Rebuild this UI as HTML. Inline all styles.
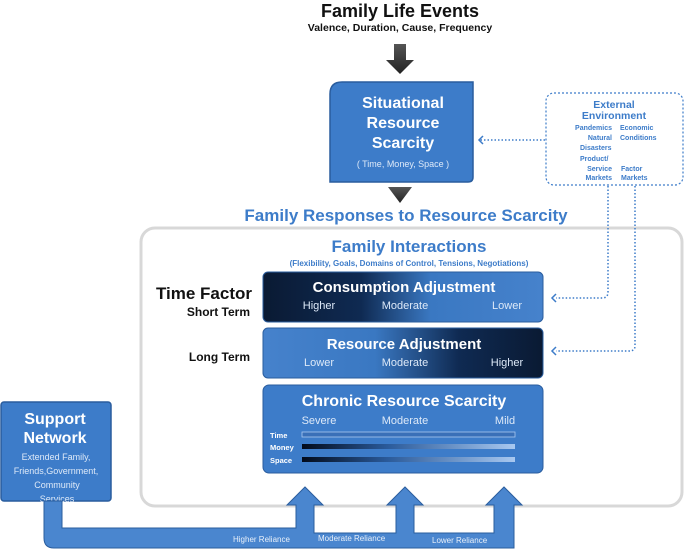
<!DOCTYPE html>
<html><head><meta charset="utf-8"><style>
html,body{margin:0;padding:0;background:#fff;}
svg{display:block;font-family:"Liberation Sans",sans-serif;}
</style></head><body>
<svg width="685" height="549" viewBox="0 0 685 549">
<defs>
<linearGradient id="gC" x1="0" x2="1"><stop offset="0" stop-color="#0a1a33"/><stop offset="0.35" stop-color="#0f2a52"/><stop offset="0.6" stop-color="#3a78c2"/><stop offset="1" stop-color="#4682cc"/></linearGradient>
<linearGradient id="gR" x1="0" x2="1"><stop offset="0" stop-color="#4682cc"/><stop offset="0.4" stop-color="#3a78c2"/><stop offset="0.7" stop-color="#0f2a52"/><stop offset="1" stop-color="#0a1a33"/></linearGradient>
<linearGradient id="gB" x1="0" x2="1"><stop offset="0" stop-color="#020a1a"/><stop offset="0.4" stop-color="#2a5a9a"/><stop offset="1" stop-color="#a8c8f0"/></linearGradient>
<linearGradient id="gA" x1="0" x2="0" y1="0" y2="1"><stop offset="0" stop-color="#555"/><stop offset="1" stop-color="#222"/></linearGradient>
</defs>
<text x="400" y="17" text-anchor="middle" font-size="18" font-weight="bold" fill="#111">Family Life Events</text>
<text x="400" y="31" text-anchor="middle" font-size="10.5" font-weight="bold" fill="#111">Valence, Duration, Cause, Frequency</text>
<path d="M394,44 H406 V60 H414 L400,74 L386,60 H394 Z" fill="url(#gA)"/>
<path d="M342,82 H473 V177 Q473,182 468,182 H330 V94 Q330,82 342,82 Z" fill="#3d7cc9" stroke="#2a5d9e" stroke-width="1.5"/>
<text x="403" y="108" text-anchor="middle" font-size="16" font-weight="bold" fill="#fff">Situational</text>
<text x="403" y="128" text-anchor="middle" font-size="16" font-weight="bold" fill="#fff">Resource</text>
<text x="403" y="148" text-anchor="middle" font-size="16" font-weight="bold" fill="#fff">Scarcity</text>
<text x="403" y="167" text-anchor="middle" font-size="9" fill="#dde9f8">( Time, Money, Space )</text>
<path d="M388,187 H412 L400,203 Z" fill="url(#gA)"/>
<text x="406" y="221" text-anchor="middle" font-size="17" font-weight="bold" fill="#3d7cc9">Family Responses to Resource Scarcity</text>
<rect x="141" y="228" width="541" height="278" rx="14" fill="#fff" stroke="#d8d8d8" stroke-width="3"/>
<rect x="546" y="93" width="137" height="92" rx="8" fill="none" stroke="#3d7cc9" stroke-width="1.2" stroke-dasharray="2,2"/>
<text x="614" y="108" text-anchor="middle" font-size="10.5" font-weight="bold" fill="#3d7cc9">External</text>
<text x="614" y="119" text-anchor="middle" font-size="10.5" font-weight="bold" fill="#3d7cc9">Environment</text>
<g font-size="7" font-weight="bold" fill="#3d7cc9">
<text x="612" y="130" text-anchor="end">Pandemics</text><text x="620" y="130">Economic</text>
<text x="612" y="140" text-anchor="end">Natural</text><text x="620" y="140">Conditions</text>
<text x="580" y="150">Disasters</text>
<text x="580" y="161">Product/</text>
<text x="612" y="171" text-anchor="end">Service</text><text x="621" y="171">Factor</text>
<text x="612" y="180" text-anchor="end">Markets</text><text x="621" y="180">Markets</text>
</g>
<g stroke="#3d7cc9" stroke-width="1.5" stroke-dasharray="1.5,2" fill="none">
<path d="M545,140 H480"/>
<path d="M608,186 V292 Q608,298 602,298 H556"/>
<path d="M635,186 V346 Q635,351 629,351 H556"/>
</g>
<g stroke="#3d7cc9" stroke-width="1.5" fill="none">
<path d="M483,136 L479,140 L483,144"/><path d="M556,294 L552,298 L556,302"/><path d="M556,347 L552,351 L556,355"/>
</g>
<text x="409" y="252" text-anchor="middle" font-size="17" font-weight="bold" fill="#3d7cc9">Family Interactions</text>
<text x="409" y="266" text-anchor="middle" font-size="8" font-weight="bold" fill="#3d7cc9">(Flexibility, Goals, Domains of Control, Tensions,  Negotiations)</text>
<text x="252" y="299" text-anchor="end" font-size="17" font-weight="bold" fill="#111">Time Factor</text>
<text x="250" y="316" text-anchor="end" font-size="12" font-weight="bold" fill="#111">Short Term</text>
<text x="250" y="361" text-anchor="end" font-size="12" font-weight="bold" fill="#111">Long Term</text>
<rect x="263" y="272" width="280" height="50" rx="5" fill="url(#gC)" stroke="#2a5d9e"/>
<text x="404" y="292" text-anchor="middle" font-size="15" font-weight="bold" fill="#fff">Consumption Adjustment</text>
<g font-size="11" fill="#dde9f8"><text x="319" y="323" dy="-14" text-anchor="middle">Higher</text><text x="405" y="309" text-anchor="middle">Moderate</text><text x="507" y="309" text-anchor="middle">Lower</text></g>
<rect x="263" y="328" width="280" height="50" rx="5" fill="url(#gR)" stroke="#2a5d9e"/>
<text x="404" y="349" text-anchor="middle" font-size="15" font-weight="bold" fill="#fff">Resource Adjustment</text>
<g font-size="11" fill="#dde9f8"><text x="319" y="366" text-anchor="middle">Lower</text><text x="405" y="366" text-anchor="middle">Moderate</text><text x="507" y="366" text-anchor="middle">Higher</text></g>
<rect x="263" y="385" width="280" height="88" rx="6" fill="#3d7cc9" stroke="#2a5d9e"/>
<text x="404" y="406" text-anchor="middle" font-size="16" font-weight="bold" fill="#fff">Chronic Resource Scarcity</text>
<g font-size="11" fill="#dde9f8"><text x="319" y="424" text-anchor="middle">Severe</text><text x="405" y="424" text-anchor="middle">Moderate</text><text x="505" y="424" text-anchor="middle">Mild</text></g>
<g font-size="7.5" font-weight="bold" fill="#fff"><text x="270" y="438">Time</text><text x="270" y="450">Money</text><text x="270" y="463">Space</text></g>
<rect x="302" y="432" width="213" height="5" fill="#3a70b8" stroke="#a8c8f0" stroke-width="0.8"/>
<rect x="302" y="444" width="213" height="5" fill="url(#gB)"/>
<rect x="302" y="457" width="213" height="5" fill="url(#gB)"/>
<rect x="1" y="402" width="110" height="99" rx="3" fill="#3d7cc9" stroke="#2a5d9e" stroke-width="1.5"/>
<text x="55" y="424" text-anchor="middle" font-size="16" font-weight="bold" fill="#fff">Support</text>
<text x="55" y="443" text-anchor="middle" font-size="16" font-weight="bold" fill="#fff">Network</text>
<g font-size="9" fill="#dde9f8" text-anchor="middle"><text x="56" y="460">Extended Family,</text><text x="56" y="474">Friends,Government,</text><text x="57" y="488">Community</text><text x="57" y="502">Services</text></g>
<path d="M44,501 V538 Q44,548 54,548 H514 V505 H522 L504,487 L486,505 H494 V533 H414 V505 H423 L405,487 L387,505 H396 V533 H314 V505 H323 L305,487 L287,505 H296 V528 H62 V501 Z" fill="#4a86cf" stroke="#2a5d9e" stroke-width="1"/>
<g font-size="8" fill="#e8f0fa"><text x="233" y="542">Higher Reliance</text><text x="318" y="541">Moderate Reliance</text><text x="432" y="543">Lower  Reliance</text></g>
</svg>
</body></html>
